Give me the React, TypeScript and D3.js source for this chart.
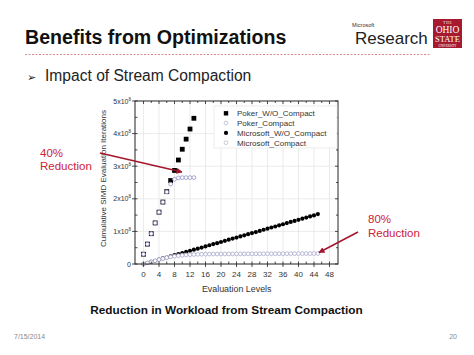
import React from "react";
import * as d3 from "d3";

const pokerLevels = [0, 1, 2, 3, 4, 5, 6, 7, 8, 9, 10, 11, 12, 13];
const pokerWO = [0.30, 0.61, 0.93, 1.26, 1.59, 1.90, 2.22, 2.56, 2.87, 3.19, 3.52, 3.83, 4.14, 4.47];
const pokerCompact = [0.30, 0.61, 0.93, 1.26, 1.59, 1.90, 2.21, 2.45, 2.60, 2.64, 2.65, 2.65, 2.65, 2.65];

const msLevels = d3.range(0, 46);
const msWO = [0, 0.03, 0.065, 0.10, 0.135, 0.17, 0.20, 0.235, 0.27, 0.30, 0.335, 0.37, 0.405, 0.44, 0.47, 0.505, 0.54, 0.575, 0.61, 0.64, 0.675, 0.71, 0.745, 0.78, 0.81, 0.845, 0.88, 0.915, 0.95, 0.98, 1.015, 1.05, 1.085, 1.12, 1.15, 1.185, 1.22, 1.255, 1.29, 1.32, 1.355, 1.39, 1.425, 1.46, 1.49, 1.53];
const msCompact = [0, 0.034, 0.068, 0.10, 0.134, 0.165, 0.193, 0.218, 0.238, 0.255, 0.268, 0.278, 0.286, 0.292, 0.297, 0.300, 0.302, 0.304, 0.305, 0.306, 0.307, 0.308, 0.309, 0.310, 0.310, 0.311, 0.311, 0.312, 0.312, 0.313, 0.313, 0.314, 0.314, 0.315, 0.315, 0.316, 0.316, 0.317, 0.317, 0.318, 0.318, 0.319, 0.319, 0.320, 0.320, 0.321];

const xTicks = [0, 4, 8, 12, 16, 20, 24, 28, 32, 36, 40, 44, 48];
const yTicks = [0, 1, 2, 3, 4, 5];
const legendLabels = ["Poker_W/O_Compact", "Poker_Compact", "Microsoft_W/O_Compact", "Microsoft_Compact"];

const FONT = "'Liberation Sans', Arial, Helvetica, sans-serif";
const SCALE = 1e8;

export default function App() {
  const x = d3.scaleLinear().domain([-2.2, 50.2]).range([135, 338]);
  const y = d3.scaleLinear().domain([0, 5 * SCALE]).range([264, 101]);
  const [x0, x1] = x.range();
  const [yb, yt] = y.range();
  const xMinor = d3.range(0, 50, 2);
  const yMinor = d3.range(0, 5.01, 0.5);
  const pokerColor = "#9090c8";
  const msColor = "#a8a8cc";
  const arrowColor = "#a3162b";
  const redText = "#cc2236";

  return (
    <svg width={474} height={355} style={{ position: "absolute", left: 0, top: 0, background: "#fff" }} fontFamily={FONT}>
      <defs>
        <marker id="ah" viewBox="0 0 10 10" refX="9" refY="5" markerWidth="6" markerHeight="6" orient="auto" markerUnits="userSpaceOnUse">
          <path d="M0,0 L10,5 L0,10 z" fill={arrowColor} />
        </marker>
      </defs>
      <rect width={474} height={355} fill="#fff" />
      {/* Title */}
      <text x={25} y={44} fontSize={19.6} fontWeight="bold" fill="#111">Benefits from Optimizations</text>
      <line x1={25} x2={430} y1={54.5} y2={54.5} stroke="#d98b8b" strokeWidth={1} strokeDasharray="2,1.5" />
      {/* Microsoft Research logo */}
      <text x={352} y={27} fontSize={5.5} fill="#333">Microsoft</text>
      <text x={355} y={44} fontSize={17} fill="#222">Research</text>
      {/* Ohio State logo */}
      <rect x={433} y={19} width={29} height={29} fill="#a6192e" />
      <text x={447.5} y={23.5} fontSize={3.5} fill="#fff" textAnchor="middle" fontFamily="'Liberation Serif', serif">T H E</text>
      <text x={447.5} y={33} fontSize={9.5} fill="#fff" textAnchor="middle" fontFamily="'Liberation Serif', serif">OHIO</text>
      <text x={447.5} y={42} fontSize={8.5} fill="#fff" textAnchor="middle" fontFamily="'Liberation Serif', serif">STATE</text>
      <text x={447.5} y={46.5} fontSize={3} fill="#fff" textAnchor="middle" fontFamily="'Liberation Serif', serif">UNIVERSITY</text>
      {/* Subtitle */}
      <text x={27} y={81} fontSize={11} fill="#222" fontFamily="'DejaVu Sans', sans-serif">➢</text>
      <text x={45} y={81} fontSize={15.6} fill="#222">Impact of Stream Compaction</text>

      {/* Grid */}
      {xTicks.map((t) => (
        <line key={"gx" + t} x1={x(t)} x2={x(t)} y1={yb} y2={yt} stroke="#e6e6e6" strokeWidth={0.8} />
      ))}
      {yTicks.slice(1, 5).map((t) => (
        <line key={"gy" + t} x1={x0} x2={x1} y1={y(t * SCALE)} y2={y(t * SCALE)} stroke="#e6e6e6" strokeWidth={0.8} />
      ))}

      {/* Data */}
      {msLevels.map((l, i) => (
        <circle key={"mw" + i} cx={x(l)} cy={y(msWO[i] * SCALE)} r={2.1} fill="#000" />
      ))}
      {msLevels.map((l, i) => (
        <circle key={"mc" + i} cx={x(l)} cy={y(msCompact[i] * SCALE)} r={1.9} fill="#fff" stroke={msColor} strokeWidth={0.8} />
      ))}
      {pokerLevels.map((l, i) => (
        <rect key={"pw" + i} x={x(l) - 2.4} y={y(pokerWO[i] * SCALE) - 2.4} width={4.8} height={4.8} fill="#000" />
      ))}
      {pokerLevels.map((l, i) => (
        <circle key={"pc" + i} cx={x(l)} cy={y(pokerCompact[i] * SCALE)} r={1.9} fill="#fff" stroke={pokerColor} strokeWidth={0.8} />
      ))}

      {/* Frame */}
      <rect x={x0} y={yt} width={x1 - x0} height={yb - yt} fill="none" stroke="#222" strokeWidth={1} />
      {xMinor.map((t) => {
        const major = t % 4 === 0;
        return (
          <g key={"xt" + t}>
            <line x1={x(t)} x2={x(t)} y1={yb + (major ? 3 : 0)} y2={yb - 2.5} stroke="#222" strokeWidth={0.8} />
            <line x1={x(t)} x2={x(t)} y1={yt} y2={yt + (major ? 3 : 2)} stroke="#222" strokeWidth={0.8} />
          </g>
        );
      })}
      {yMinor.map((t) => {
        const major = Number.isInteger(t);
        const yy = y(t * SCALE);
        return (
          <g key={"yt" + t}>
            <line x1={x0 - (major ? 3 : 0)} x2={x0 + 2.5} y1={yy} y2={yy} stroke="#222" strokeWidth={0.8} />
            <line x1={x1} x2={x1 - (major ? 3 : 2)} y1={yy} y2={yy} stroke="#222" strokeWidth={0.8} />
          </g>
        );
      })}
      {xTicks.map((t) => (
        <text key={"xl" + t} x={x(t)} y={277} fontSize={8} fill="#333" textAnchor="middle">{t}</text>
      ))}
      {yTicks.map((t) => (
        <text key={"yl" + t} x={131} y={y(t * SCALE) + 2.5} fontSize={7} fill="#333" textAnchor="end">
          {t === 0 ? "0" : (
            <>
              {t + "x10"}
              <tspan fontSize={4.5} dy={-3}>8</tspan>
            </>
          )}
        </text>
      ))}
      <text x={236.7} y={291.5} fontSize={8.9} fill="#333" textAnchor="middle">Evaluation Levels</text>
      <text transform="translate(106,178.5) rotate(-90)" fontSize={8} fill="#333" textAnchor="middle">Cumulative SIMD Evaluation Iterations</text>

      {/* Legend */}
      <rect x={214} y={106} width={123} height={42} fill="#fff" stroke="#e0e0e0" strokeWidth={0.6} />
      {legendLabels.map((lab, i) => {
        const cy = 113.3 + i * 9.8;
        const mx = 226;
        return (
          <g key={"lg" + i}>
            {i === 0 && <rect x={mx - 2.2} y={cy - 2.2} width={4.4} height={4.4} fill="#000" />}
            {i === 1 && <circle cx={mx} cy={cy} r={1.9} fill="#fff" stroke="#b8b8d0" strokeWidth={0.8} />}
            {i === 2 && <circle cx={mx} cy={cy} r={2.1} fill="#000" />}
            {i === 3 && <circle cx={mx} cy={cy} r={1.9} fill="#fff" stroke="#c0c0c8" strokeWidth={0.8} />}
            <text x={237} y={cy + 2.8} fontSize={8} fill="#333">{lab}</text>
          </g>
        );
      })}

      {/* Annotations */}
      <text x={40} y={157} fontSize={11.5} fill={redText}>40%</text>
      <text x={40} y={170} fontSize={11.5} fill={redText}>Reduction</text>
      <line x1={100} y1={153} x2={182} y2={172} stroke={arrowColor} strokeWidth={1.5} markerEnd="url(#ah)" />
      <text x={368} y={223} fontSize={11.5} fill={redText}>80%</text>
      <text x={368} y={237} fontSize={11.5} fill={redText}>Reduction</text>
      <line x1={358} y1={232} x2={319} y2={252.5} stroke={arrowColor} strokeWidth={1.5} markerEnd="url(#ah)" />

      {/* Caption & footer */}
      <text x={226.5} y={314} fontSize={11.8} fontWeight="bold" fill="#111" textAnchor="middle">Reduction in Workload from Stream Compaction</text>
      <text x={14} y={339} fontSize={7} fill="#888">7/15/2014</text>
      <text x={457} y={339} fontSize={7} fill="#888" textAnchor="end">20</text>
    </svg>
  );
}
